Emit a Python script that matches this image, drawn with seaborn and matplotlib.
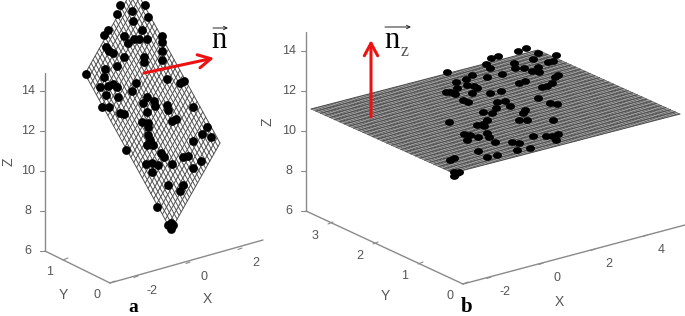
import matplotlib
matplotlib.use("Agg")
import matplotlib.pyplot as plt
from matplotlib.path import Path
from matplotlib.transforms import Affine2D
import numpy as np
import seaborn as sns

sns.set_theme(style="white")
plt.rcParams["font.family"] = ["Liberation Sans", "DejaVu Sans"]

# points, in image pixels (x to the right, y downwards)
a_x = [120, 145, 132, 117, 148, 133, 142, 108, 104, 124, 128, 134, 139, 147, 162, 162, 106, 109, 113, 124, 144, 144,
       162, 162, 117, 105, 86, 104, 136, 113, 117, 167, 180, 184, 100, 108, 132, 106, 118, 147, 154, 143, 155, 102,
       109, 167, 168, 193, 120, 124, 147, 172, 176, 142, 148, 148, 207, 202, 211, 148, 150, 193, 126, 147, 153, 161,
       164, 183, 188, 146, 152, 158, 172, 201, 193, 152, 168, 183, 180, 157, 171, 168, 173, 171]
a_y = [5, 5, 11, 14, 17, 21, 30, 30, 35, 36, 43, 39, 39, 39, 36, 42, 47, 51, 53, 57, 57, 62,
       51, 60, 66, 69, 74, 77, 83, 84, 87, 79, 83, 81, 87, 86, 91, 95, 97, 97, 101, 103, 106, 107,
       107, 105, 110, 107, 113, 114, 112, 121, 119, 122, 123, 127, 127, 134, 137, 135, 140, 141, 150, 145, 145, 153,
       157, 157, 156, 164, 163, 165, 164, 161, 168, 172, 185, 185, 191, 207, 223, 225, 225, 229]
b_x = [447, 491, 498, 518, 526, 538, 556, 533, 486, 490, 514, 515, 524, 532, 538, 539, 548, 553, 502, 487, 472, 466,
       456, 558, 555, 525, 519, 552, 547, 542, 467, 474, 477, 457, 450, 446, 455, 472, 490, 501, 538, 463, 468, 497,
       505, 510, 550, 557, 496, 525, 523, 483, 492, 449, 487, 483, 477, 484, 519, 527, 553, 487, 489, 464, 470, 467,
       478, 495, 533, 546, 552, 558, 556, 512, 519, 517, 530, 478, 487, 497, 454, 450, 454, 459, 454, 457]
b_y = [72, 58, 56, 51, 48, 53, 55, 59, 64, 68, 63, 68, 68, 71, 67, 72, 62, 61, 74, 77, 75, 79,
       82, 75, 77, 81, 83, 83, 86, 87, 85, 86, 88, 88, 92, 92, 94, 93, 93, 91, 98, 100, 102, 102,
       101, 106, 103, 104, 108, 110, 113, 112, 113, 122, 120, 124, 125, 126, 120, 120, 120, 133, 137, 134, 135, 140,
       137, 142, 136, 136, 136, 134, 140, 142, 143, 150, 148, 151, 157, 155, 158, 160, 172, 172, 176, 173]

# plane corners: left, bottom, right
a_plane_left = (85, 74)
a_plane_bottom = (171, 230)
a_plane_right = (220, 143)
b_plane_left = (311, 109)
b_plane_bottom = (453, 173)
b_plane_right = (680, 114)

x_ticks_a = [-2, 0, 2]
y_ticks_a = [0, 1]
z_ticks = [6, 8, 10, 12, 14]
x_ticks_b = [-2, 0, 2, 4]
y_ticks_b = [0, 1, 2, 3]

AXIS_GREY = "#8a8a8a"
TEXT_GREY = "#555555"


def draw_plane(ax, left, bottom, right, n_u, n_v, lw_u, lw_v, color, fill=None):
    left, bottom, right = np.array(left), np.array(bottom), np.array(right)
    u, v = right - bottom, left - bottom
    if fill:
        corners = np.array([bottom, right, right + v, left])
        ax.fill(corners[:, 0], corners[:, 1], color=fill, lw=0, zorder=0.5)
    for t in np.linspace(0, 1, n_u + 1):
        p0, p1 = bottom + t * u, bottom + t * u + v
        ax.plot([p0[0], p1[0]], [p0[1], p1[1]], color=color, lw=lw_u, zorder=1)
    for t in np.linspace(0, 1, n_v + 1):
        p0, p1 = bottom + t * v, bottom + t * v + u
        ax.plot([p0[0], p1[0]], [p0[1], p1[1]], color=color, lw=lw_v, zorder=1)


def draw_axes(ax, origin, x_end, y_end, z_x, z_top, z6, z_step, x0, x_unit, y_unit, x_ticks, y_ticks, x_tick_dir, y_tick_dir):
    ax.plot([origin[0], x_end[0]], [origin[1], x_end[1]], color=AXIS_GREY, lw=1)
    ax.plot([origin[0], y_end[0]], [origin[1], y_end[1]], color=AXIS_GREY, lw=1)
    ax.plot([z_x, z_x], [z6, z_top], color=AXIS_GREY, lw=1)
    for z in z_ticks:
        yy = z6 - (z - 6) * z_step
        ax.plot([z_x - 5, z_x], [yy, yy], color=AXIS_GREY, lw=0.8)
        ax.text(z_x - 17, yy, str(z), ha="center", va="center", fontsize=9, color=TEXT_GREY)
    for t in x_ticks:
        px, py = x0[0] + t * x_unit[0], x0[1] + t * x_unit[1]
        ax.plot([px, px + x_tick_dir[0]], [py, py + x_tick_dir[1]], color=AXIS_GREY, lw=0.8)
        ax.text(px + 14, py + 15, str(t), ha="center", va="center", fontsize=9, color=TEXT_GREY)
    for t in y_ticks:
        px, py = origin[0] + t * y_unit[0], origin[1] + t * y_unit[1]
        ax.plot([px, px + y_tick_dir[0]], [py, py + y_tick_dir[1]], color=AXIS_GREY, lw=0.8)
        ax.text(px - 13, py + 12, str(t), ha="center", va="center", fontsize=9, color=TEXT_GREY)


def draw_vector(ax, start, end, label_xy, sub=None, bar=None):
    ax.annotate("", xy=end, xytext=start, zorder=5,
                arrowprops=dict(arrowstyle="->,head_length=0.75,head_width=0.4", color="#ee1111", lw=2.2,
                                shrinkA=0, shrinkB=0))
    ax.text(*label_xy, "n", ha="center", va="center", fontsize=22, family="Liberation Serif", color="black")
    ax.annotate("", xy=bar[1], xytext=bar[0],
                arrowprops=dict(arrowstyle="->,head_length=0.2,head_width=0.1", color="#222222", lw=0.7,
                                shrinkA=0, shrinkB=0))
    if sub:
        ax.text(*sub, "z", ha="center", va="center", fontsize=13, family="Liberation Serif", color=TEXT_GREY)


fig = plt.figure(figsize=(6.85, 3.16), dpi=100)
ax = fig.add_axes([0, 0, 1, 1])
ax.set_xlim(0, 685)
ax.set_ylim(316, 0)
ax.axis("off")

# panel a
draw_plane(ax, a_plane_left, a_plane_bottom, a_plane_right, 24, 30, 0.7, 0.7, "#505050")
draw_axes(ax, (110, 283), (263, 240), (45, 251), 45, 73, 251, 20, (190, 262), (26, -7), (-47, -23),
          x_ticks_a, y_ticks_a, (-4, 1.5), (5, -2))
sns.scatterplot(x=a_x, y=a_y, ax=ax, color="black", s=40, linewidth=0, zorder=3, legend=False)
draw_vector(ax, (144, 73), (214, 58), (219, 40), bar=((213, 28), (228, 28)))
ax.text(9, 162, "Z", rotation=90, ha="center", va="center", fontsize=10, color=TEXT_GREY)
ax.text(63, 295, "Y", ha="center", va="center", fontsize=10, color=TEXT_GREY)
ax.text(207, 299, "X", ha="center", va="center", fontsize=10, color=TEXT_GREY)
ax.text(133, 308, "a", ha="center", va="center", fontsize=14, family="Liberation Serif", weight="bold", color="black")

# panel b, plane seen almost edge on so the points look flattened
flat_dot = Path.unit_circle().transformed(Affine2D().scale(1, 0.75))
draw_plane(ax, b_plane_left, b_plane_bottom, b_plane_right, 70, 30, 0.4, 0.7, "#4a4a4a", fill="#a0a0a0")
draw_axes(ax, (463, 284), (685, 225), (306, 211), 306, 32, 211, 20, (543, 263), (26, -7), (-45, -20),
          x_ticks_b, y_ticks_b, (-4, 1.5), (5, -2))
sns.scatterplot(x=b_x, y=b_y, ax=ax, color="black", s=42, marker=flat_dot, linewidth=0, zorder=3, legend=False)
draw_vector(ax, (371, 117), (371, 40), (392, 41), sub=(405, 52), bar=((385, 27), (411, 27)))
ax.text(268, 122, "Z", rotation=90, ha="center", va="center", fontsize=10, color=TEXT_GREY)
ax.text(385, 296, "Y", ha="center", va="center", fontsize=10, color=TEXT_GREY)
ax.text(559, 302, "X", ha="center", va="center", fontsize=10, color=TEXT_GREY)
ax.text(467, 307, "b", ha="center", va="center", fontsize=15, family="Liberation Serif", weight="bold", color="black")

fig.savefig("out.png", dpi=100)
